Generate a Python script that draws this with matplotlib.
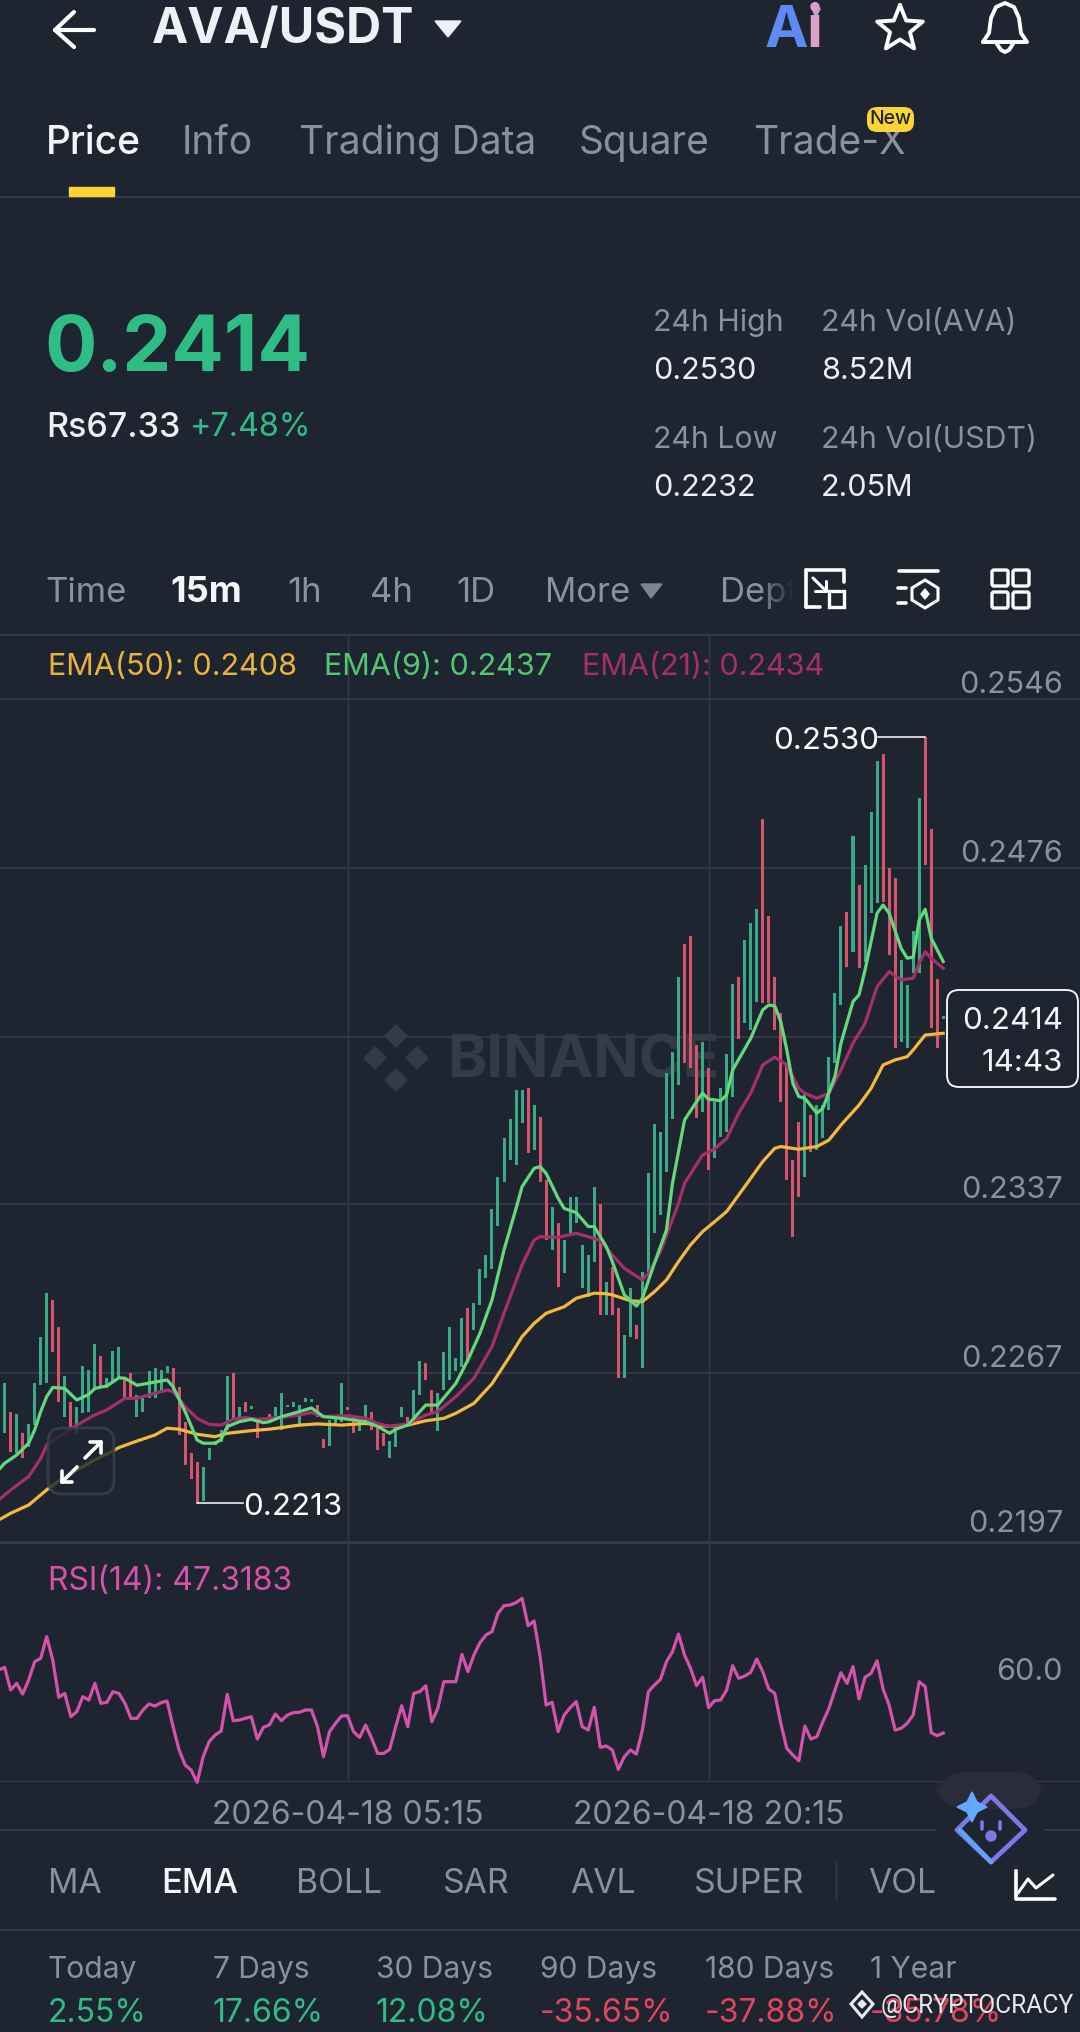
import numpy as np
import matplotlib
matplotlib.use("Agg")
from matplotlib import pyplot as plt
from matplotlib.patches import FancyBboxPatch, Polygon, Circle, Rectangle

plt.rcParams['font.family'] = ['Inter', 'DejaVu Sans']

# candles, one per 15 minutes
highs = [
    .22630, .22510, .22499, .22420, .22459, .22630, .22820, .23000, .22972, .22862,
    .22657, .22551, .22530, .22699, .22682, .22788, .22740, .22648, .22761, .22779,
    .22655, .22668, .22579, .22572, .22679, .22689, .22682, .22699, .22689, .22610,
    .22468, .22340, .22300, .22279, .22361, .22390, .22434, .22659, .22668, .22530,
    .22548, .22533, .22468, .22468, .22499, .22528, .22588, .22537, .22551, .22537,
    .22565, .22561, .22537, .22398, .22475, .22482, .22630, .22528, .22482, .22475,
    .22537, .22508, .22454, .22420, .22390, .22448, .22530, .22489, .22599, .22721,
    .22710, .22599, .22588, .22758, .22859, .22730, .22899, .22937, .22958, .23099,
    .23158, .23349, .23480, .23641, .23720, .23841, .23841, .23851, .23779, .23731,
    .23469, .23358, .23289, .23220, .23400, .23400, .23200, .23158, .23438, .23369,
    .23048, .23110, .22937, .22827, .23020, .22868, .23089, .23499, .23701, .23669,
    .23910, .24000, .24311, .24446, .24479, .24028, .24041, .23931, .23793, .23848,
    .23990, .24280, .24311, .24462, .24531, .24589, .24962, .24562, .24311, .24159,
    .23953, .23552, .23709, .23829, .23738, .23779, .23779, .23978, .24243, .24520,
    .24578, .24893, .24690, .24773, .24992, .25203, .25232, .24760, .24719, .24380,
    .24276, .24500, .25050, .25303, .24922, .24301, .24148,
]
lows = [
    .22420, .22344, .22337, .22316, .22365, .22454, .22620, .22627, .22758, .22551,
    .22489, .22448, .22420, .22503, .22510, .22599, .22613, .22606, .22627, .22655,
    .22565, .22565, .22489, .22510, .22565, .22565, .22599, .22668, .22599, .22413,
    .22289, .22230, .22130, .22141, .22310, .22372, .22385, .22434, .22475, .22482,
    .22510, .22519, .22399, .22459, .22475, .22489, .22434, .22530, .22530, .22454,
    .22548, .22548, .22489, .22361, .22368, .22454, .22468, .22517, .22420, .22431,
    .22461, .22434, .22351, .22368, .22316, .22362, .22489, .22454, .22489, .22579,
    .22641, .22503, .22430, .22599, .22641, .22679, .22696, .22710, .22848, .22951,
    .23062, .23099, .23278, .23462, .23552, .23531, .23703, .23579, .23593, .23462,
    .23220, .23179, .23027, .23082, .23248, .23289, .23020, .22986, .23131, .22910,
    .22910, .22910, .22648, .22648, .22820, .22809, .22689, .23089, .23248, .23324,
    .23503, .23720, .23862, .23952, .23931, .23724, .23752, .23510, .23558, .23648,
    .23669, .23814, .24051, .24120, .24090, .24207, .24200, .24200, .24090, .23793,
    .23469, .23233, .23398, .23481, .23585, .23593, .23643, .23759, .23953, .24193,
    .24351, .24413, .24346, .24371, .24574, .24616, .24620, .24400, .24015, .24040,
    .24015, .24326, .24326, .24773, .24098, .24015, .24135,
]
sides = ("grgrggggrr" "grggggrggg" "rrggggggrr" "rrrgggggrg" "rgrgrggggg"
         "ggrrgggrrg" "grrrgggrgg" "rrgggggrgg" "gggggggrgr" "rgrggggggr"
         "grrggrgggg" "gggrrrgrgg" "ggrgggrrrr" "rrrgrggggg" "rgrgggrrrg"
         "gggrrrg")

ema9_idx = [-1, 0, 2, 4, 5, 6, 7, 8, 10, 12, 14, 15, 17, 19, 20, 22, 27, 28, 30, 32, 33, 35, 36, 37, 39,
            41, 43, 44, 46, 49, 51, 53, 56, 60, 62, 64, 65, 67, 70, 72, 75, 77, 79, 81, 83, 85, 86, 88,
            89, 90, 92, 93, 95, 97, 98, 100, 101, 103, 105, 106, 108, 110, 111, 113, 115, 116, 117, 119,
            120, 121, 124, 126, 127, 128, 129, 130, 131, 132, 133, 135, 136, 138, 139, 141, 142, 143,
            145, 146, 147, 149, 150, 151, 152, 153, 154, 155, 156]
ema9_val = [.22268, .22296, .22330, .22379, .22434, .22510, .22572, .22610, .22606, .22558, .22581, .22606,
            .22616, .22650, .22648, .22619, .22641, .22613, .22510, .22392, .22379, .22379, .22395, .22448,
            .22468, .22478, .22464, .22468, .22489, .22510, .22525, .22489, .22482, .22468, .22448, .22420,
            .22437, .22454, .22537, .22537, .22627, .22724, .22834, .22972, .23179, .23351, .23441, .23517,
            .23524, .23496, .23393, .23351, .23334, .23276, .23276, .23193, .23131, .22993, .22947, .22979,
            .23124, .23262, .23455, .23717, .23793, .23828, .23803, .23797, .23821, .23924, .24055, .24173,
            .24193, .24189, .24124, .24007, .23869, .23814, .23807, .23745, .23766, .23897, .24035, .24207,
            .24235, .24338, .24573, .24607, .24573, .24428, .24387, .24391, .24545, .24589, .24470, .24421,
            .24373]

ema21_idx = [-1, 1, 4, 6, 7, 12, 15, 17, 20, 22, 24, 27, 28, 30, 32, 34, 36, 38, 40, 42, 44, 46, 49, 51, 53,
             57, 60, 62, 64, 67, 70, 72, 75, 78, 81, 83, 86, 88, 89, 92, 95, 97, 99, 101, 103, 106, 107,
             109, 112, 113, 116, 118, 120, 122, 124, 126, 128, 130, 132, 133, 135, 137, 139, 141, 143, 145,
             147, 149, 151, 152, 153, 154, 156]
ema21_val = [.22144, .22185, .22241, .22316, .22372, .22454, .22496, .22517, .22565, .22565, .22579, .22599,
             .22593, .22530, .22482, .22457, .22454, .22478, .22485, .22478, .22482, .22486, .22496, .22506,
             .22489, .22493, .22482, .22461, .22448, .22459, .22496, .22510, .22572, .22648, .22779, .22917,
             .23117, .23220, .23234, .23231, .23248, .23234, .23218, .23158, .23103, .23055, .23082, .23172,
             .23372, .23455, .23572, .23597, .23641, .23745, .23828, .23945, .23977, .23945, .23848, .23828,
             .23807, .23828, .23924, .24035, .24117, .24269, .24331, .24297, .24304, .24366, .24414, .24387,
             .24345]

ema50_idx = [-1, 1, 4, 7, 10, 12, 15, 18, 19, 22, 25, 27, 29, 32, 35, 37, 41, 44, 49, 52, 56, 60, 62, 64, 67,
             70, 73, 75, 78, 81, 84, 86, 88, 90, 93, 95, 98, 100, 101, 104, 106, 108, 110, 112, 114, 116, 118,
             120, 123, 126, 128, 129, 132, 134, 135, 137, 139, 142, 144, 146, 148, 150, 151, 153, 156]
ema50_val = [.22061, .22089, .22123, .22186, .22240, .22268, .22310, .22347, .22361, .22388, .22413, .22441,
             .22437, .22416, .22406, .22420, .22431, .22437, .22454, .22459, .22454, .22461, .22454, .22448,
             .22454, .22472, .22482, .22503, .22544, .22625, .22740, .22820, .22875, .22917, .22944, .22979,
             .23000, .22998, .22993, .22969, .22965, .23006, .23055, .23131, .23200, .23255, .23296,
             .23338, .23441, .23545, .23600, .23607, .23596, .23604, .23607, .23634, .23696, .23779, .23848,
             .23945, .23966, .23979, .24007, .24069, .24076]

# starts one candle left of the first bar
rsi = [
    64.35,
    65.07, 58.94, 60.74, 57.86, 61.64, 66.60, 67.50, 73.36, 67.05, 56.96,
    58.04, 51.73, 53.09, 57.14, 56.24, 60.74, 55.34, 55.61, 58.49, 58.04,
    55.34, 51.28, 51.28, 53.54, 55.16, 54.62, 55.52, 55.97, 49.03, 42.73,
    38.67, 37.32, 33.99, 40.92, 44.98, 46.78, 47.86, 57.77, 50.65, 50.83,
    51.28, 51.73, 45.70, 48.85, 49.48, 52.46, 50.65, 52.18, 52.82, 52.91,
    53.54, 53.54, 49.03, 40.92, 47.68, 49.93, 51.91, 52.00, 47.68, 46.15,
    49.48, 45.88, 41.82, 41.82, 42.91, 49.03, 54.71, 49.03, 58.04, 58.49,
    60.11, 50.38, 53.99, 61.19, 61.19, 61.19, 68.58, 63.90, 68.40, 71.73,
    73.81, 74.71, 79.66, 81.73, 81.91, 82.55, 83.72, 76.33, 77.59, 67.95,
    54.89, 55.61, 47.68, 52.18, 54.17, 55.79, 49.03, 48.13, 54.26, 43.45,
    43.81, 42.73, 37.50, 40.92, 42.73, 41.64, 48.13, 58.49, 60.29, 61.82,
    66.60, 69.30, 74.08, 68.40, 64.80, 60.11, 62.37, 54.17, 56.06, 56.24,
    58.94, 65.52, 62.09, 62.73, 63.72, 67.32, 63.90, 59.21, 58.04, 49.93,
    43.18, 41.37, 39.84, 49.21, 45.70, 46.33, 50.38, 53.99, 58.94, 63.63,
    60.74, 65.25, 56.51, 62.37, 63.45, 66.87, 59.21, 54.89, 48.13, 48.58,
    49.93, 52.18, 61.19, 59.84, 47.41, 46.60, 47.32,
]

price_ticks = [0.2546, 0.2476, 0.2406, 0.2337, 0.2267, 0.2197]
price_labels = ["0.2546", "0.2476", "", "0.2337", "0.2267", "0.2197"]
time_idx = [57, 117]
time_labels = ["2026-04-18 05:15", "2026-04-18 20:15"]

tabs = ["Price", "Info", "Trading Data", "Square", "Trade-X"]
intervals = ["Time", "15m", "1h", "4h", "1D", "More", "Dept"]
indicators = ["MA", "EMA", "BOLL", "SAR", "AVL", "SUPER", "VOL"]
periods = ["Today", "7 Days", "30 Days", "90 Days", "180 Days", "1 Year"]
period_changes = ["2.55%", "17.66%", "12.08%", "-35.65%", "-37.88%", "-35.78%"]

BG = "#1e2530"
GRID = "#363c47"
GREEN = "#3aa985"
RED = "#d8536c"
GREY = "#8a919c"
W, H = 1080, 2032

fig = plt.figure(figsize=(W / 100, H / 100), dpi=100, facecolor=BG)


def px_axes(top, bottom, z):
    a = fig.add_axes([0, 1 - bottom / H, 1, (bottom - top) / H], zorder=z)
    a.patch.set_alpha(0)
    a.set_xticks([])
    a.set_yticks([])
    for s in a.spines.values():
        s.set_visible(False)
    return a


# screen-space layers behind and in front of the chart
back = px_axes(0, H, 0)
back.set_xlim(0, W)
back.set_ylim(H, 0)
ui = px_axes(0, H, 5)
ui.set_xlim(0, W)
ui.set_ylim(H, 0)

candle_step = 6.017
xmin = -4.6 / candle_step
xmax = (W - 4.6) / candle_step

# price panel
ax = px_axes(636, 1542, 1)
per_px = (price_ticks[0] - price_ticks[-1]) / (1542 - 699)
ax.set_xlim(xmin, xmax)
ax.set_ylim(price_ticks[-1], price_ticks[0] + (699 - 636) * per_px)
for p in price_ticks:
    ax.axhline(p, color=GRID, lw=1.2, zorder=1)
for i in time_idx:
    ax.axvline(i, color=GRID, lw=1.0, zorder=1)
highs_a = np.array(highs)
lows_a = np.array(lows)
colors = [GREEN if s == "g" else RED for s in sides]
ax.bar(np.arange(len(highs)), highs_a - lows_a, bottom=lows_a, width=0.5, color=colors, zorder=2)
ax.plot(ema50_idx, ema50_val, color="#f4b93c", lw=2.3, zorder=3)
ax.plot(ema21_idx, ema21_val, color="#a52f6c", lw=2.3, zorder=4)
ax.plot(ema9_idx, ema9_val, color="#62d97c", lw=2.3, zorder=5)

hi = int(np.argmax(highs_a))
lo = int(np.argmin(lows_a))
ax.plot([hi - 7.8, hi], [highs_a[hi]] * 2, color="white", lw=1.1, zorder=6)
ax.plot([lo, lo + 7.7], [lows_a[lo]] * 2, color="white", lw=1.1, zorder=6)
ax.annotate("%.4f" % highs_a[hi], (hi - 7.6, highs_a[hi]), xytext=(0, -4), textcoords="offset pixels",
            color="white", fontsize=22.5, ha="right", va="center", zorder=7)
ax.annotate("%.4f" % lows_a[lo], (lo + 7.7, lows_a[lo]), xytext=(0, -4), textcoords="offset pixels",
            color="white", fontsize=22.5, ha="left", va="center", zorder=7)
for p, lab in zip(price_ticks, price_labels):
    off = 18 if p == price_ticks[-1] else 14
    ui.text(1063, 699 + (price_ticks[0] - p) / per_px - off, lab, color=GREY, fontsize=22, ha="right", va="center")

# rsi panel
ax2 = px_axes(1542, 1782, 1)
ax2.set_xlim(xmin, xmax)
ax2.set_ylim(34.08, 98.94)
ax2.axhline(34.08, color=GRID, lw=2.4, zorder=1)
ax2.axhline(98.94, color=GRID, lw=2.4, zorder=1)
for i in time_idx:
    ax2.axvline(i, color=GRID, lw=1.0, zorder=1)
ax2.plot(np.arange(len(rsi)) - 1, rsi, color="#d552ab", lw=2.3, clip_on=False, zorder=3)
for i, lab in zip(time_idx, time_labels):
    ax2.annotate(lab, (i, 34.08), xytext=(0, -18), textcoords="offset pixels", color=GREY,
                 fontsize=23, ha="center", va="top", annotation_clip=False)


def txt(x, y, s, size, color=GREY, weight="normal", ha="left", family=None):
    t = ui.text(x, y + 3, s, fontsize=size, color=color, fontweight=weight, ha=ha, va="center")
    if family:
        t.set_family(family)
    return t


def hline(y, x0=0, x1=W, lw=1.4):
    ui.plot([x0, x1], [y, y], color=GRID, lw=lw)


def stroke(xs, ys, color="white", lw=2.6, z=6):
    ui.plot(xs, ys, color=color, lw=lw, solid_capstyle="round", solid_joinstyle="round", zorder=z)


# watermark
back.text(447, 1062, "BINANCE", fontsize=43, fontweight="bold", color="#343b47", va="center")
for cx, cy, r in [(396, 1036, 11), (375, 1058, 11), (417, 1058, 11), (396, 1080, 11)]:
    back.add_patch(Polygon([(cx - r, cy), (cx, cy - r), (cx + r, cy), (cx, cy + r)], color="#343b47"))

# header
stroke([94, 55, 74], [30, 30, 12], lw=3)
stroke([55, 74], [30, 47], lw=3)
txt(152, 27, "AVA/USDT", 35, "#eef0f4", "bold")
ui.add_patch(Polygon([(435, 21), (461, 21), (448, 37)], color="#eef0f4"))
txt(765, 29, "A", 42, "#5d8af5", "bold")
txt(807, 29, "i", 42, "#d9a0c8", "bold")
ui.add_patch(Polygon([(816, 3), (820, 9), (816, 17), (812, 9)], color="#c79be0"))
ang = np.linspace(-np.pi / 2, 1.5 * np.pi, 11)
rad = np.tile([24, 10.5], 6)[:11]
stroke(900 + rad * np.cos(ang), 29 + rad * np.sin(ang), lw=2.8)
bell_x = [983, 989, 991, 996, 1005, 1014, 1019, 1021, 1027, 983]
bell_y = [42, 33, 18, 7, 3, 7, 18, 33, 42, 42]
stroke(bell_x, bell_y, lw=2.8)
stroke([997, 1001, 1005, 1009, 1013], [44, 50, 52, 50, 44], lw=2.8)

tab_x = [46, 182, 299, 579, 753]
for k, (x, s) in enumerate(zip(tab_x, tabs)):
    txt(x, 140, s, 28, "#f4f5f7" if k == 0 else GREY, "medium" if k == 0 else "normal")
ui.add_patch(Rectangle((69, 187), 45, 9, color="#fcd535", zorder=4))
hline(197)
ui.add_patch(FancyBboxPatch((867, 107), 47, 25, boxstyle="round,pad=0,rounding_size=10",
                            fc="#fcd535", ec="none", zorder=6))
txt(890, 116, "New", 14, "#1e2530", "medium", ha="center").set_zorder(7)

# quote block
GREEN_TEXT = "#2ebd85"
txt(44, 348, "0.2414", 56, GREEN_TEXT, "bold")
txt(46, 425, "Rs67.33", 24.5, "#eceef1", "medium")
txt(190, 425, "+7.48%", 23.3, GREEN_TEXT)
for x, y, a, b in [(653, 320, "24h High", "0.2530"), (821, 320, "24h Vol(AVA)", "8.52M"),
                   (653, 437, "24h Low", "0.2232"), (821, 437, "24h Vol(USDT)", "2.05M")]:
    txt(x, y, a, 21.8, GREY)
    txt(x, y + 48, b, 22, "#eceef1")

# interval row
int_x = [45, 170, 287, 370, 456, 545, 720]
for x, s in zip(int_x, intervals):
    if s == "15m":
        txt(x, 590, s, 26, "#f4f5f7", "bold")
    else:
        txt(x, 590, s, 25, GREY)
# the row fades out under the icons
for k in range(12):
    ui.add_patch(Rectangle((762 + k * 3, 570), 3, 44, color=BG, alpha=min(1, 0.1 + k * 0.09), lw=0, zorder=4))
ui.add_patch(Rectangle((798, 570), 12, 44, color=BG, lw=0, zorder=4))
ui.add_patch(Polygon([(641, 584), (662, 584), (651, 598)], color="#7d8490"))
stroke([806, 844, 844], [570, 570, 582], lw=2.6)
stroke([806, 806], [570, 607], lw=2.6)
stroke([806, 820], [607, 607], lw=2.6)
stroke([813, 826], [578, 591], lw=2.2)
stroke([826, 826, 815], [581, 591, 591], lw=2.2)
ui.add_patch(Rectangle((829, 591), 15, 16, fill=False, ec="white", lw=2.4, zorder=6))
stroke([899, 938], [571, 571], lw=2.6)
stroke([898, 906], [588, 588], lw=2.6)
stroke([898, 906], [603, 603], lw=2.6)
ui.add_patch(Polygon([(925, 580), (938, 588), (938, 600), (925, 608), (912, 600), (912, 588)],
                     fill=False, ec="white", lw=2.2, zorder=6))
ui.add_patch(Polygon([(921, 594), (925, 589), (929, 594), (925, 599)], color="white", zorder=6))
for x, y in [(992, 570), (1013, 570), (992, 592), (1013, 592)]:
    ui.add_patch(FancyBboxPatch((x, y), 16, 16, boxstyle="round,pad=0,rounding_size=2", fill=False, ec="white", lw=2.4))
hline(635)

# indicator legend
txt(48, 664, "EMA(50): 0.2408", 22, "#e8b33a")
txt(324, 664, "EMA(9): 0.2437", 22, "#4fc873")
txt(582, 664, "EMA(21): 0.2434", 22, "#a52f6c")

# last price tag
ui.add_patch(FancyBboxPatch((947, 990), 131, 97, boxstyle="round,pad=0,rounding_size=12",
                            fc=BG, ec="#f0f1f3", lw=1.4, zorder=6))
for y, s in [(1018, "0.2414"), (1060, "14:43")]:
    txt(1063, y, s, 22.5, "#f4f5f7", ha="right").set_zorder(7)

# expand button
ui.add_patch(FancyBboxPatch((48, 1428), 66, 66, boxstyle="round,pad=0,rounding_size=14",
                            fc="#1e2530", ec="#3d424d", lw=2, alpha=0.8, zorder=6))
stroke([62, 77], [1482, 1467], z=7)
stroke([62, 62], [1482, 1471], z=7)
stroke([62, 72], [1482, 1482], z=7)
stroke([85, 101], [1458, 1442], z=7)
stroke([101, 90], [1442, 1442], z=7)
stroke([101, 101], [1442, 1453], z=7)

txt(48, 1579, "RSI(14): 47.3183", 23, "#d552ab")
txt(1063, 1669, "60.0", 22, GREY, ha="right")

# indicator tabs
hline(1830)
ind_x = [48, 161, 296, 443, 570, 694, 868]
for x, s in zip(ind_x, indicators):
    if s == "EMA":
        txt(x, 1881, s, 25, "#f4f5f7", "medium")
    else:
        txt(x, 1881, s, 24.3, GREY)
ui.plot([836, 836], [1862, 1900], color=GRID, lw=1)
stroke([1016, 1016, 1055], [1870, 1899, 1899], lw=2.6)
stroke([1018, 1028, 1036, 1053], [1893, 1879, 1888, 1875], lw=2.2)
hline(1930)

# period performance
per_x = [48, 213, 376, 540, 705, 870]
for x, s, c in zip(per_x, periods, period_changes):
    txt(x, 1967, s, 21.6, GREY)
    txt(x, 2010, c, 23, "#e0475f" if c.startswith("-") else GREEN_TEXT)

# assistant bubble
ui.add_patch(Rectangle((936, 1808), 107, 60, color=BG, zorder=6))
ui.add_patch(FancyBboxPatch((936, 1772), 107, 37, boxstyle="round,pad=0,rounding_size=30",
                            fc="#2a2d39", ec="none", zorder=6))
ui.add_patch(Polygon([(991, 1796), (1025, 1830), (991, 1862), (957, 1830)], fill=False, ec="#7b78ea", lw=3.4,
                     joinstyle="round", zorder=7))
stroke([960, 991], [1830, 1862], "#5aa6f6", lw=3.4, z=8)
ui.add_patch(Polygon([(972, 1792), (977, 1802), (987, 1807), (977, 1812), (972, 1822), (967, 1812), (957, 1807), (967, 1802)],
                     color="#62a8ff", zorder=9))
stroke([982, 982], [1822, 1829], "#7b78ea", z=8)
stroke([1000, 1000], [1822, 1829], "#7b78ea", z=8)
ui.add_patch(Circle((991, 1836), 5, color="#7b78ea", zorder=8))

# screenshot watermark over the last column
ui.add_patch(Polygon([(851, 2004), (862, 1992), (873, 2004), (862, 2017)], fill=False, ec="#e8e9ec", lw=2.2, zorder=8))
ui.add_patch(Polygon([(858, 2004), (862, 2000), (866, 2004), (862, 2008)], color="#e8e9ec", zorder=8))
txt(881, 2003, "@CRYPTOCRACY", 17.7, "#e6e7ea", family="Roboto").set_zorder(8)

fig.savefig("out.png", dpi=100, facecolor=BG)
